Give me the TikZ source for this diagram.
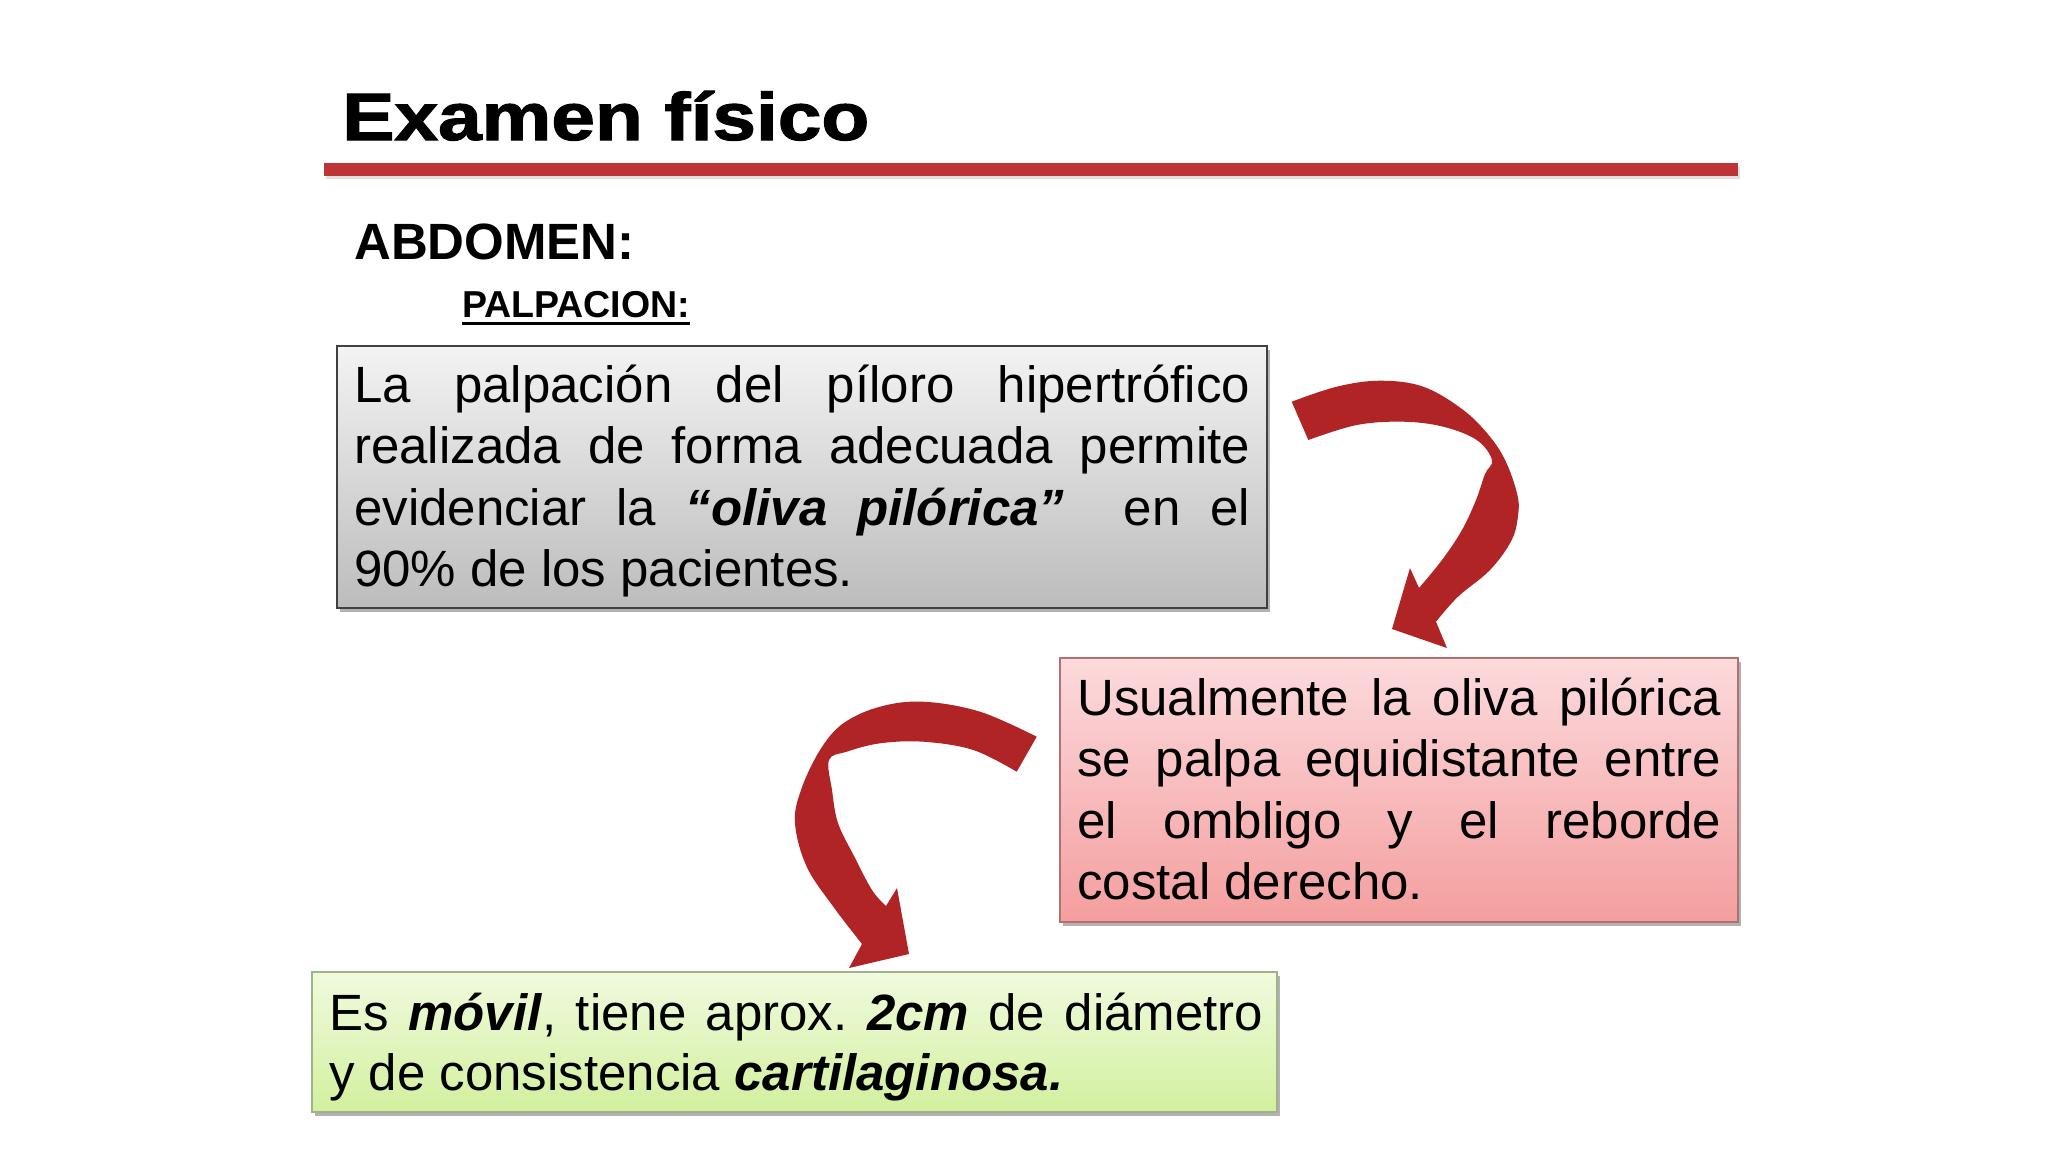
\documentclass[tikz,border=0pt]{standalone}
\usepackage{fontspec}
\setmainfont{Liberation Sans}
\newfontfamily\titlefont{Liberation Sans}[BoldFeatures={FakeBold=1.6}]
\usetikzlibrary{shadows}
\definecolor{rulered}{RGB}{190,52,54}
\definecolor{arrowred}{RGB}{176,36,38}
\definecolor{graytop}{RGB}{243,243,243}
\definecolor{graybot}{RGB}{188,188,188}
\definecolor{grayborder}{RGB}{64,64,64}
\definecolor{pinktop}{RGB}{252,218,221}
\definecolor{pinkbot}{RGB}{244,158,158}
\definecolor{pinkborder}{RGB}{178,112,112}
\definecolor{greentop}{RGB}{240,250,222}
\definecolor{greenbot}{RGB}{210,240,158}
\definecolor{greenborder}{RGB}{160,178,136}
\newcommand\jl[1]{\makebox[\linewidth][s]{#1}\par}
\newcommand\bi[1]{\textbf{\textit{#1}}}
\frenchspacing
\tikzset{
  boxbase/.style={rectangle, draw, line width=2.5pt, inner sep=0pt,
    drop shadow={shadow xshift=3pt, shadow yshift=-4pt, opacity=0.3, fill=black}},
  graybox/.style={boxbase, draw=grayborder, top color=graytop, bottom color=graybot},
  pinkbox/.style={boxbase, draw=pinkborder, top color=pinktop, bottom color=pinkbot},
  greenbox/.style={boxbase, draw=greenborder, top color=greentop, bottom color=greenbot},
  txt/.style={anchor=base west, inner sep=0pt, font=\fontsize{51}{61.5}\selectfont},
  heading/.style={anchor=base west, inner sep=0pt},
  ribbon/.style={fill=arrowred},
}
\begin{document}
\frenchspacing
\begin{tikzpicture}[x=1pt,y=-1pt]
\useasboundingbox (0,0) rectangle (2048,1152);
\fill[white] (0,0) rectangle (2048,1152);

% title
\node[heading] (title) at (342,140)
  {\scalebox{1.17}[1]{\fontsize{67}{80}\selectfont\titlefont\bfseries Examen físico}};
\coordinate (ruleL) at (324,169.5);
\coordinate (ruleR) at (1738,169.5);
\draw[black, opacity=0.12, line width=12pt] ([shift={(2pt,-3pt)}]ruleL) -- ([shift={(2pt,-3pt)}]ruleR);
\draw[rulered, line width=12.5pt] (ruleL) -- (ruleR);

\node[heading] (abd) at (354,259) {\fontsize{51}{60}\selectfont\bfseries ABDOMEN:};
\node[heading] (pal) at (462,317) {\fontsize{37.5}{42}\selectfont\bfseries PALPACION:};
\draw[line width=3pt] ([yshift=-6pt]pal.base west) -- ([yshift=-6pt]pal.base east);

% boxes
\node[graybox, minimum width=930pt, minimum height=262pt] (b1) at (802,477) {};
\node[pinkbox, minimum width=678pt, minimum height=264pt] (b2) at (1399,790) {};
\node[greenbox, minimum width=965pt, minimum height=140pt] (b3) at (794.5,1042) {};

\node[txt] (t1) at (354,402) {\parbox[t]{896pt}{%
  \jl{La palpación del píloro hipertrófico}
  \jl{realizada de forma adecuada permite}
  \jl{evidenciar la \bi{“oliva pilórica”}\ \ en el}
  90\% de los pacientes.}};

\node[txt] (t2) at (1077,715) {\parbox[t]{644pt}{%
  \jl{Usualmente la oliva pilórica}
  \jl{se palpa equidistante entre}
  \jl{el ombligo y el reborde}
  costal derecho.}};

\node[txt, font=\fontsize{51}{60}\selectfont] (t3) at (329,1030) {\parbox[t]{934pt}{%
  \jl{Es \bi{móvil}, tiene aprox. \bi{2cm} de diámetro}
  y de consistencia \bi{cartilaginosa.}}};

% arrow from b1 to b2
\fill[ribbon] (1308.3,440) -- plot[smooth, tension=0.6] coordinates {(1291.7,401.7) (1336.7,386.7) (1380,380.7) (1423.3,386.7) (1463.3,410) (1490,436.7) (1506,462) (1517,493.3) (1518.3,513.3) (1511.7,540) (1490,570) (1458,596.7) (1436,621.7)}
  -- (1447,648) -- (1392,629) -- (1410,568) -- (1419,588)
  -- plot[smooth, tension=0.6] coordinates {(1419,588) (1442,560) (1462,530) (1476,500) (1485,474) (1492,460) (1476.7,440) (1443.3,426.7) (1403.3,421.7) (1356.7,425) (1308.3,440)} -- cycle;

% arrow from b2 to b3
\fill[ribbon] (1016.7,771.7) -- plot[smooth, tension=0.6] coordinates {(1036.7,736.7) (980,711.7) (923.3,701.7) (880,706.7) (843.3,723.3) (820,750) (801,790) (795,823.3) (806.7,866.7) (833.3,906.7) (862,944)}
  -- (849,968) -- (909,954) -- (897,888) -- (886,906)
  -- plot[smooth, tension=0.6] coordinates {(886,906) (872,890) (854,856) (838,823) (832,790) (829,760) (846.7,751.7) (880,743.3) (923.3,741.7) (973.3,750) (1016.7,771.7)} -- cycle;
\end{tikzpicture}
\end{document}
